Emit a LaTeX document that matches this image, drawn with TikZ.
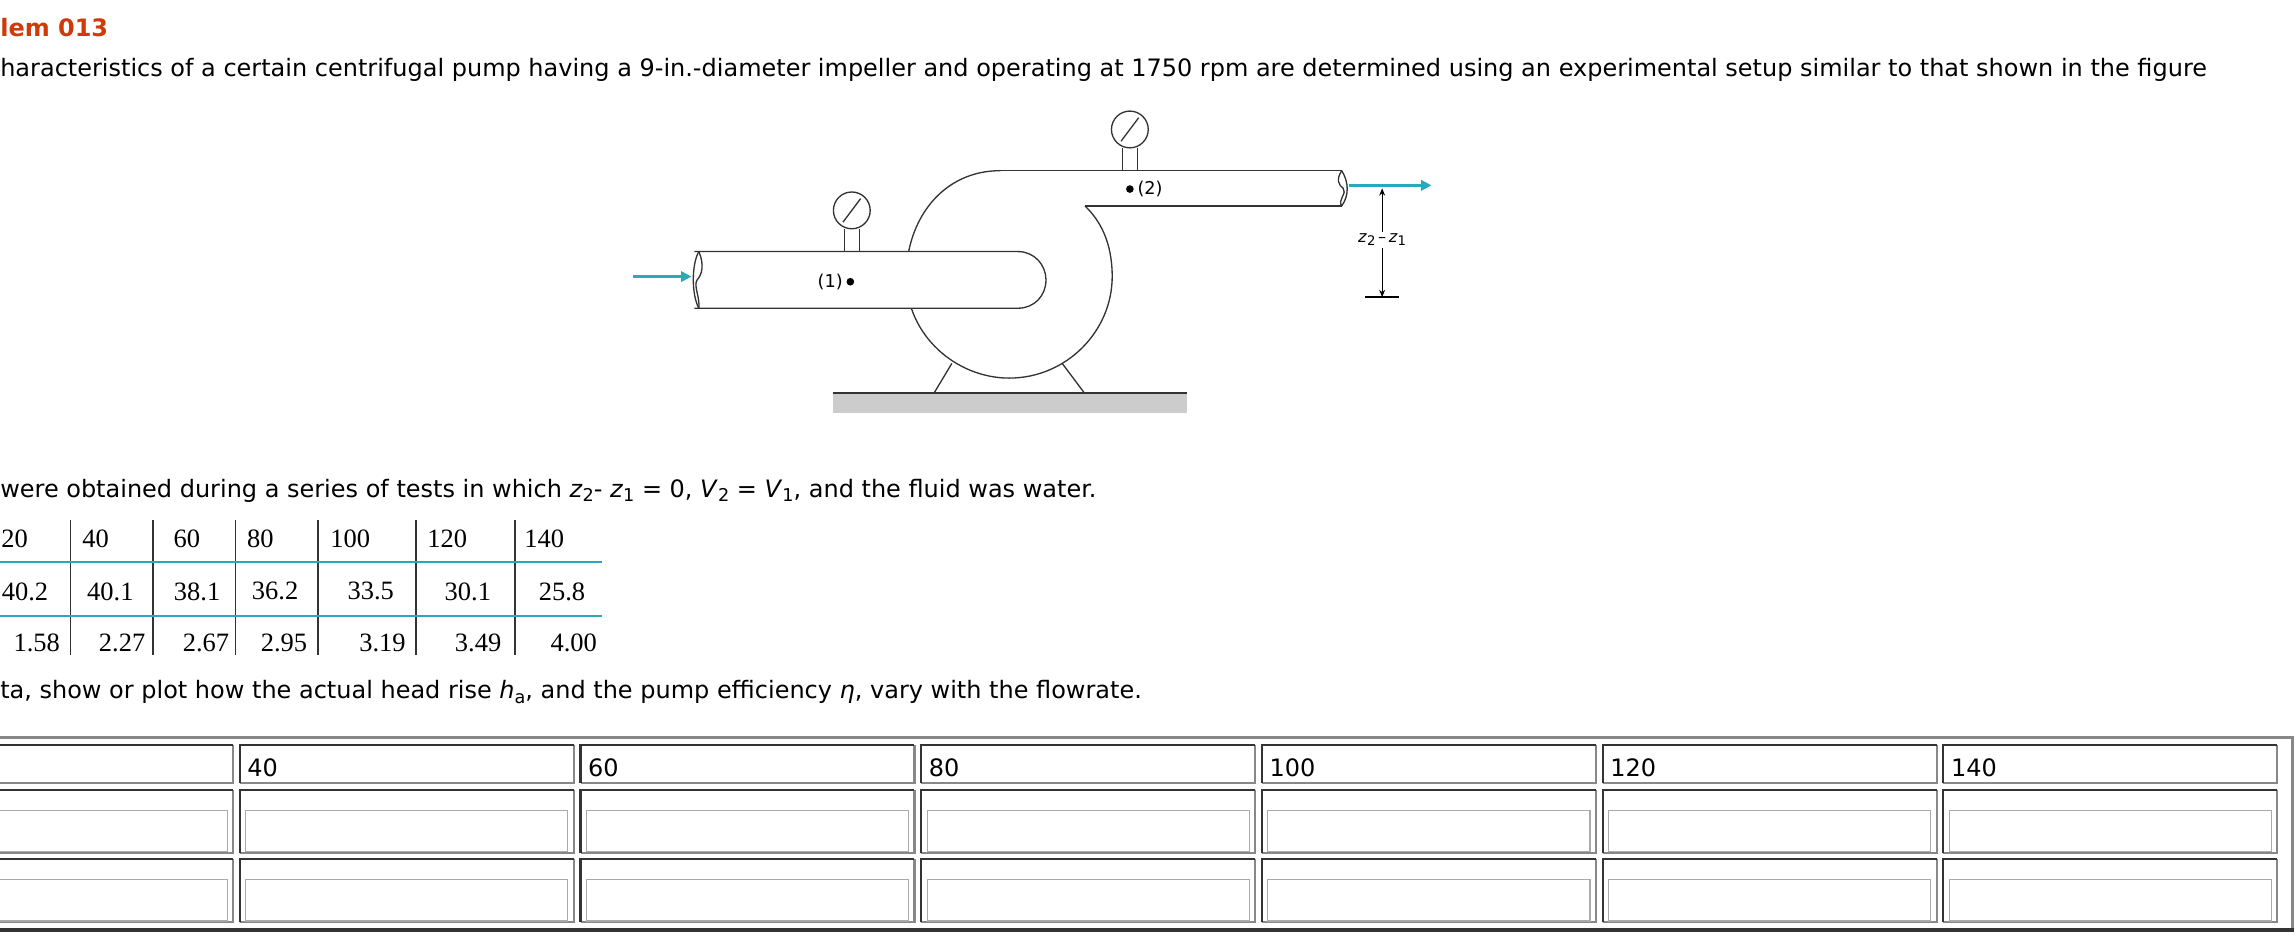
\documentclass[tikz,border=0pt]{standalone}
\usepackage{fontspec}
\setmainfont{DejaVu Sans}
\newfontfamily\tabfont{Liberation Serif}
\usetikzlibrary{arrows.meta}
\definecolor{teal1}{HTML}{2AA8C0}
\definecolor{titlered}{HTML}{D03A0A}
\definecolor{darkb}{HTML}{333333}
\definecolor{lightb}{HTML}{888888}
\definecolor{inb}{HTML}{AAAAAA}
\newcommand{\sub}[1]{\raisebox{-0.35ex}{\fontsize{12}{12}\selectfont #1}}
\tikzset{
  txt/.style={anchor=west,inner sep=0pt,font=\fontsize{16.3}{18}\selectfont},
  tnum/.style={inner sep=0pt,font=\tabfont\fontsize{18}{20}\selectfont},
  pline/.style={line width=0.9pt,black!80},
  tarrow/.style={teal1,line width=1.6pt,-{Triangle[length=7pt,width=7pt]}},
  lbl/.style={inner sep=1pt,font=\fontsize{12}{14}\selectfont}
}
\begin{document}
\begin{tikzpicture}[x=1pt,y=-1pt]
\useasboundingbox (0,0) rectangle (1560,640.4);
% texts
\node[txt,anchor=base west,font=\bfseries\fontsize{16.3}{18}\selectfont,text=titlered] (title) at (0,25) {lem 013};
\node[txt,anchor=base west] (line2) at (0,52) {haracteristics of a certain centrifugal pump having a 9-in.-diameter impeller and operating at 1750 rpm are determined using an experimental setup similar to that shown in the figure};
\node[txt,anchor=base west] (line3) at (0,338) {were obtained during a series of tests in which \textit{z}\sub{2}- \textit{z}\sub{1} = 0, \textit{V}\sub{2} = \textit{V}\sub{1}, and the fluid was water.};
\node[txt,anchor=base west] (line4) at (0,475) {ta, show or plot how the actual head rise \textit{h}\sub{a}, and the pump efficiency \textit{η}, vary with the flowrate.};

% ---- pump figure ----
\coordinate (vtop) at (680,116);
\coordinate (vin) at (737.5,140);
\draw[pline] (vtop) .. controls (640,116) and (616,150) .. (616,188)
  .. controls (616,228) and (650,257) .. (686,257)
  .. controls (725,257) and (756,225) .. (756,188)
  .. controls (756,165) and (748,150) .. (vin);
% feet
\draw[pline] (647,247) .. controls (641,257) .. (635,267);
\draw[pline] (722,247) .. controls (729,257) .. (737,267);
% base
\fill[black!20] (566,267) rectangle (807,281);
\draw[line width=1.5pt,black!80] (566,267) -- (807,267);
% inlet pipe
\fill[white] (472,171) -- (692,171) .. controls (703,171) and (711,180) .. (711,190.25) .. controls (711,201) and (703,209.5) .. (692,209.5) -- (472,209.5) -- cycle;
\draw[pline] (472,171) -- (692,171) .. controls (703,171) and (711,180) .. (711,190.25) .. controls (711,201) and (703,209.5) .. (692,209.5) -- (472,209.5);
\draw[pline] (475,171) .. controls (470,180) and (470,200) .. (475,209.5);
\draw[pline] (475,171) .. controls (479,180) and (477,187) .. (474,190) .. controls (471,194) and (476,202) .. (475,209.5);
% outlet pipe
\draw[pline] (vtop) -- (912,116);
\draw[pline] (vin) -- (912,140);
\draw[pline] (912,116) .. controls (917,124) and (917,133) .. (912,140);
\draw[pline] (912,116) .. controls (908,122) and (910,126) .. (913,128) .. controls (916,131) and (909,136) .. (912,140);
% gauges
\foreach \gx/\gy/\py in {579/143/171,768/88/116}{
  \draw[pline] (\gx-5,\gy+12.5) -- (\gx-5,\py);
  \draw[pline] (\gx+5,\gy+12.5) -- (\gx+5,\py);
  \draw[pline,fill=white] (\gx,\gy) circle[radius=12.5];
  \draw[pline] (\gx-6,\gy+8) -- (\gx+6,\gy-8);
}
% points
\fill (578,191.5) circle[radius=2.6];
\node[lbl,anchor=east] (p1) at (574,191.5) {(1)};
\fill (768,128.5) circle[radius=2.6];
\node[lbl,anchor=west] (p2) at (772,128.5) {(2)};
% flow arrows
\coordinate (ina) at (430,188); \coordinate (inb) at (470,188);
\draw[tarrow] (ina) -- (inb);
\coordinate (outa) at (917,126); \coordinate (outb) at (973,126);
\draw[tarrow] (outa) -- (outb);
% dimension
\node[lbl,font=\fontsize{11}{12}\selectfont] (dz) at (939.5,163) {\textit{z}\raisebox{-0.35ex}{\fontsize{9}{9}\selectfont 2}\,–\,\textit{z}\raisebox{-0.35ex}{\fontsize{9}{9}\selectfont 1}};
\coordinate (dtop) at (939.5,128); \coordinate (dbot) at (939.5,202);
\draw[line width=0.7pt,-{Stealth[length=5pt,width=4pt]}] (dz.north) -- (dtop);
\draw[line width=0.7pt,-{Stealth[length=5pt,width=4pt]}] (dz.south) -- (dbot);
\draw[line width=1.2pt] (928,202) -- (951,202);

% ---- data table ----
\foreach \bx in {48,104,160,216,283,350}{\draw[line width=1.2pt,black!80] (\bx,353.5) -- (\bx,445);}
\draw[teal1,line width=1.6pt] (0,381.8) -- (409,381.8);
\draw[teal1,line width=1.6pt] (0,418.6) -- (409,418.6);
\foreach \cx/\t in {10/20,65/40,127/60,177/80,238/100,304/120,370/140}{\node[tnum] at (\cx,366) {\t};}
\foreach \cx/\t in {17/40.2,75/40.1,134/38.1,187/36.2,252/33.5,318/30.1,382/25.8}{\node[tnum] at (\cx,402) {\t};}
\foreach \cx/\t in {25/1.58,83/2.27,140/2.67,193/2.95,260/3.19,325/3.49,390/4.00}{\node[tnum] at (\cx,437) {\t};}

% ---- answer form ----
\draw[lightb,line width=2pt] (0,501) -- (1558,501) -- (1558,632);
\draw[darkb,line width=2.4pt] (0,632) -- (1559,632);
\foreach \i in {0,...,6}{
  \pgfmathsetmacro{\L}{\i==0 ? -5 : 163+(\i-1)*231.6}
  \pgfmathsetmacro{\R}{\i==0 ? 158.6 : \L+227}
  \foreach \ta/\tb in {506.5/532,537/580,584/627}{
    \draw[lightb,line width=1.4pt] (\L,\tb) -- (\R,\tb) -- (\R,\ta);
    \draw[darkb,line width=1.4pt] (\L,\tb) -- (\L,\ta) -- (\R,\ta);
  }
  \draw[inb,line width=0.8pt] (\L+4,551) rectangle (\R-4,579);
  \draw[inb,line width=0.8pt] (\L+4,598) rectangle (\R-4,626);
}
\foreach \i/\t in {1/40,2/60,3/80,4/100,5/120,6/140}{
  \pgfmathsetmacro{\L}{163+(\i-1)*231.6}
  \node[txt] (c\i) at (\L+5,522) {\t};
}
\end{tikzpicture}
\end{document}
